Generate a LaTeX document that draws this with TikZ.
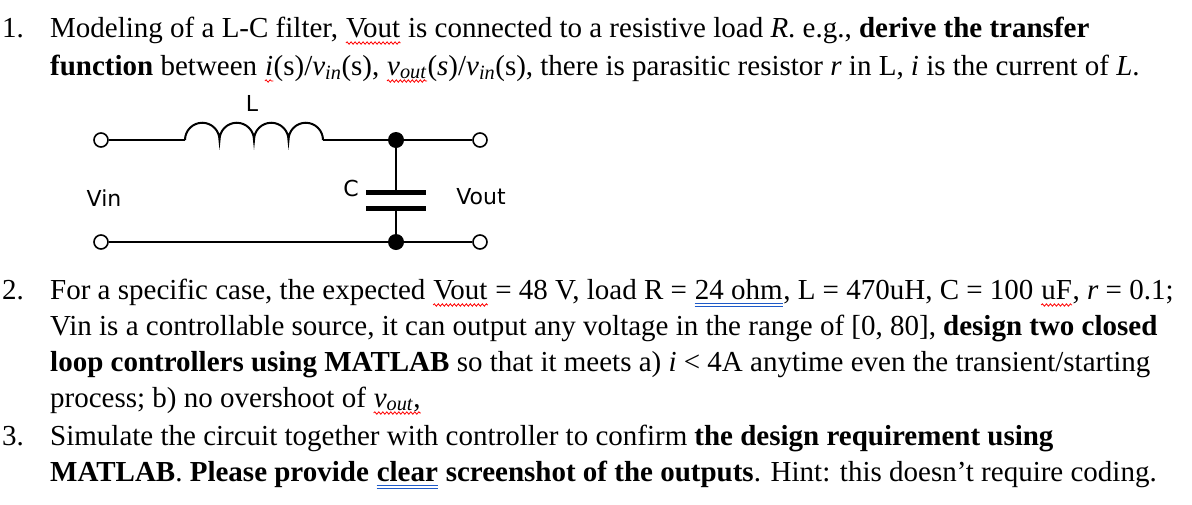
\documentclass[tikz,border=0pt]{standalone}
\usepackage{fontspec}
\setmainfont{Liberation Serif}
\newfontfamily\circfont{DejaVu Sans}
\usetikzlibrary{calc,decorations.pathmorphing}
\definecolor{wordblue}{RGB}{30,90,200}
\newcommand{\wv}[1]{\tikz[baseline=(uw.base),x=1pt,y=1pt]{\node[inner sep=0pt,anchor=base west](uw) at (0,0){#1};\draw[red,line width=0.8pt,decorate,decoration={snake,amplitude=1.2pt,segment length=4pt}] ($(uw.base west)+(0,-6)$) -- ($(uw.base east)+(0,-6)$);}}
\newcommand{\dbl}[1]{\tikz[baseline=(uw.base),x=1pt,y=1pt]{\node[inner sep=0pt,anchor=base west](uw) at (0,0){#1};\draw[wordblue,line width=0.8pt] ($(uw.base west)+(0,-4)$) -- ($(uw.base east)+(0,-4)$);\draw[wordblue,line width=0.8pt] ($(uw.base west)+(0,-7)$) -- ($(uw.base east)+(0,-7)$);}}
\newcommand{\sub}[1]{\textsubscript{\textit{#1}}}
\begin{document}
\begin{tikzpicture}[x=1pt,y=-1pt,
  txt/.style={anchor=base west,inner sep=0pt,font=\fontsize{29}{33}\selectfont},
  lbl/.style={inner sep=0pt,font=\circfont\fontsize{22}{24}\selectfont},
  wire/.style={line width=2pt},
  term/.style={circle,draw,line width=1.6pt,fill=white,minimum size=14pt,inner sep=0pt},
  dot/.style={circle,fill=black,minimum size=16pt,inner sep=0pt}]
\useasboundingbox (0,0) rectangle (1192,504);
% text
\node[txt] (n1) at (2,37) {1.};
\node[txt] (l1) at (50,37) {Modeling of a L-C filter, \wv{Vout} is connected to a resistive load \textit{R}. e.g., \textbf{derive the transfer}};
\node[txt] (l2) at (50,75) {\textbf{function} between \wv{\textit{i}}(s)/\textit{v}\sub{in}(s), \wv{\textit{v}\sub{out}}(\textit{s})/\textit{v}\sub{in}(s), there is parasitic resistor \textit{r} in L, \textit{i} is the current of \textit{L}.};
\node[txt] (n2) at (2,299) {2.};
\node[txt] (l3) at (50,299) {For a specific case, the expected \wv{Vout} = 48 V, load R = \dbl{24 ohm}, L = 470uH, C = 100 \wv{uF}, \textit{r} = 0.1;};
\node[txt] (l4) at (50,335) {Vin is a controllable source, it can output any voltage in the range of [0, 80], \textbf{design two closed}};
\node[txt] (l5) at (50,371) {\textbf{loop controllers using MATLAB} so that it meets a) \textit{i} < 4A anytime even the transient/starting};
\node[txt] (l6) at (50,407) {process; b) no overshoot of \wv{\textit{v}\sub{out},}};
\node[txt] (n3) at (2,445) {3.};
\node[txt] (l7) at (50,445) {Simulate the circuit together with controller to confirm \textbf{the design requirement using}};
\node[txt] (l8) at (50,481) {\textbf{MATLAB}. \textbf{Please provide \dbl{clear} screenshot of the outputs}. Hint: this doesn’t require coding.};
% circuit
\coordinate (ls) at (185,140);
\coordinate (le) at (323,140);
\coordinate (c1) at (396,192);
\coordinate (c2) at (396,208);
\node[dot] (jt) at (396,140) {};
\node[dot] (jb) at (396,242) {};
\node[term] (tl1) at (101,140) {};
\node[term] (tl2) at (101,242) {};
\node[term] (tr1) at (480,140) {};
\node[term] (tr2) at (480,242) {};
\draw[wire] (tl1) -- (ls);
\draw[wire] (ls) arc[start angle=180,end angle=360,radius=17.25]
  arc[start angle=180,end angle=360,radius=17.25]
  arc[start angle=180,end angle=360,radius=17.25]
  arc[start angle=180,end angle=360,radius=17.25] -- (le);
\draw[wire] (le) -- (jt) -- (tr1);
\draw[wire] (tl2) -- (jb) -- (tr2);
\draw[wire] (jt) -- (c1);
\draw[wire] (c2) -- (jb);
\draw[line width=5pt] ($(c1)+(-30,0)$) -- ($(c1)+(30,0)$);
\draw[line width=5pt] ($(c2)+(-30,0)$) -- ($(c2)+(30,0)$);
\node[lbl] (lL) at (252,103) {L};
\node[lbl] (lC) at (351,188) {C};
\node[lbl] (lvin) at (104,198) {Vin};
\node[lbl] (lvout) at (481,197) {Vout};
\end{tikzpicture}
\end{document}
